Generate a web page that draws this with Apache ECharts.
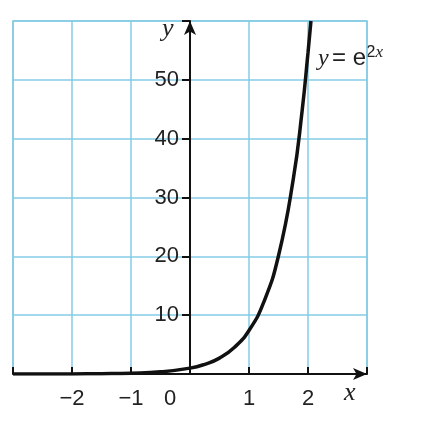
<!DOCTYPE html>
<html><head><meta charset="utf-8">
<script src="https://cdn.jsdelivr.net/npm/echarts@6/dist/echarts.min.js"></script>
<style>html,body{margin:0;padding:0;background:#fff}#c{width:442px;height:436px}</style>
</head><body><div id="c"></div>
<script>
const xValues = [-3, -2.5, -2, -1.5, -1, -0.5, 0, 0.25, 0.5, 0.75, 1, 1.25, 1.5, 1.75, 1.9, 2, 2.05];
const yValues = [0.0025, 0.0067, 0.018, 0.05, 0.135, 0.37, 1, 1.65, 2.7, 4.5, 7.4, 12.2, 20.1, 33.1, 44.7, 54.6, 60];
const xTicks = [-2, -1, 1, 2];
const yTicks = [10, 20, 30, 40, 50];

const chart = echarts.init(document.getElementById('c'));
const gridColor = '#86cbe6';
const font = '"Liberation Sans", Arial, sans-serif';
chart.setOption({
  animation: false,
  grid: {left: 13, right: 75, top: 21, bottom: 62, containLabel: false, outerBoundsMode: 'none'},
  xAxis: {
    type: 'value', min: -3, max: 3, interval: 1,
    axisLine: {onZero: false, lineStyle: {color: '#111', width: 2}, symbol: ['none', 'arrow'], symbolSize: [9, 14]},
    axisTick: {show: true, inside: true, length: 7, lineStyle: {color: '#111', width: 2}},
    axisLabel: {fontSize: 22, color: '#222', fontFamily: font, margin: 14,
      formatter: v => xTicks.includes(v) ? String(v).replace('-', '\u2212') : ''},
    splitLine: {show: true, lineStyle: {color: gridColor, width: 1.5}}
  },
  yAxis: {
    type: 'value', min: 0, max: 60, interval: 10,
    axisLine: {onZero: true, lineStyle: {color: '#111', width: 2}, symbol: ['none', 'arrow'], symbolSize: [9, 14]},
    axisTick: {show: true, length: 8, lineStyle: {color: '#111', width: 2}},
    axisLabel: {fontSize: 22, color: '#222', fontFamily: font, margin: -166, align: 'right',
      formatter: v => yTicks.includes(v) ? String(v) : ''},
    splitLine: {show: true, lineStyle: {color: gridColor, width: 1.5}}
  },
  graphic: [
    {type: 'rect', shape: {x: 13, y: 21, width: 354, height: 353}, style: {fill: 'none', stroke: gridColor, lineWidth: 1.5}, z: -1},
    {type: 'text', left: 164, top: 388, style: {text: '0', fontSize: 22, fill: '#222', fontFamily: font}},
    {type: 'text', left: 344, top: 380, style: {text: 'x', fontSize: 26, fontStyle: 'italic', fill: '#222', fontFamily: '"Liberation Serif", serif'}},
    {type: 'text', left: 162, top: 16, style: {text: 'y', fontSize: 26, fontStyle: 'italic', fill: '#222', fontFamily: '"Liberation Serif", serif'}},
    {type: 'text', left: 318, top: 44, style: {
      rich: {i: {fontSize: 24, fontStyle: 'italic', fontFamily: '"Liberation Serif", serif', fill: '#222'},
             n: {fontSize: 24, fontFamily: font, fill: '#222'},
             s: {fontSize: 17, fontFamily: font, fill: '#222', verticalAlign: 'top', padding: [0,0,12,0]},
             si: {fontSize: 17, fontStyle: 'italic', fontFamily: '"Liberation Serif", serif', fill: '#222', padding: [0,0,12,0]}},
      text: '{i|y} {n|= e}{s|2}{si|x}'}}
  ],
  series: [{
    type: 'line', smooth: true, showSymbol: false, clip: true,
    lineStyle: {color: '#111', width: 3.5},
    data: xValues.map((x, i) => [x, yValues[i]])
  }]
});
</script></body></html>
